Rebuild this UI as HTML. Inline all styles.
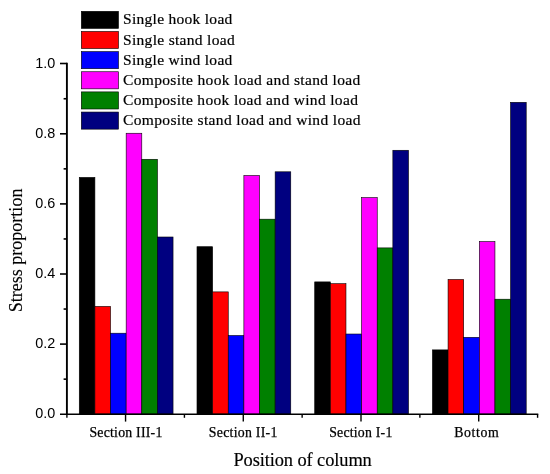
<!DOCTYPE html>
<html><head><meta charset="utf-8"><title>Stress proportion</title>
<style>
html,body{margin:0;padding:0;background:#fff}
svg{display:block}
.serif{font-family:"Liberation Serif","Times New Roman",serif;fill:#000}
.sans{font-family:"Liberation Sans",Arial,sans-serif;fill:#000}
</style></head><body>
<svg width="550" height="474" viewBox="0 0 550 474">
<rect width="550" height="474" fill="#fff"/>
<g stroke="#000" stroke-width="0.6">
<rect x="79.27" y="177.41" width="15.63" height="236.59" fill="#000000"/>
<rect x="94.90" y="306.40" width="15.63" height="107.60" fill="#ff0000"/>
<rect x="110.53" y="333.21" width="15.63" height="80.79" fill="#0000ff"/>
<rect x="126.16" y="133.25" width="15.63" height="280.75" fill="#ff00ff"/>
<rect x="141.79" y="159.29" width="15.63" height="254.71" fill="#008000"/>
<rect x="157.42" y="237.00" width="15.63" height="177.00" fill="#000080"/>
<rect x="196.99" y="246.71" width="15.63" height="167.29" fill="#000000"/>
<rect x="212.62" y="291.89" width="15.63" height="122.11" fill="#ff0000"/>
<rect x="228.25" y="335.49" width="15.63" height="78.51" fill="#0000ff"/>
<rect x="243.88" y="175.48" width="15.63" height="238.52" fill="#ff00ff"/>
<rect x="259.51" y="219.19" width="15.63" height="194.81" fill="#008000"/>
<rect x="275.14" y="171.80" width="15.63" height="242.20" fill="#000080"/>
<rect x="314.71" y="281.90" width="15.63" height="132.10" fill="#000000"/>
<rect x="330.34" y="283.68" width="15.63" height="130.32" fill="#ff0000"/>
<rect x="345.97" y="334.02" width="15.63" height="79.98" fill="#0000ff"/>
<rect x="361.60" y="197.60" width="15.63" height="216.40" fill="#ff00ff"/>
<rect x="377.23" y="247.90" width="15.63" height="166.10" fill="#008000"/>
<rect x="392.86" y="150.28" width="15.63" height="263.72" fill="#000080"/>
<rect x="432.43" y="349.89" width="15.63" height="64.11" fill="#000000"/>
<rect x="448.06" y="279.51" width="15.63" height="134.49" fill="#ff0000"/>
<rect x="463.69" y="337.31" width="15.63" height="76.69" fill="#0000ff"/>
<rect x="479.32" y="241.59" width="15.63" height="172.41" fill="#ff00ff"/>
<rect x="494.95" y="299.21" width="15.63" height="114.79" fill="#008000"/>
<rect x="510.58" y="102.30" width="15.63" height="311.70" fill="#000080"/>
</g>
<g stroke="#000" fill="none">
<path stroke-width="1.9" d="M66.9 62.7 V415.0"/>
<path stroke-width="1.4" d="M60 414.3 H538.28"/>
<g stroke-width="1.6">
<path d="M60 344.10 H66.9"/>
<path d="M60 274.00 H66.9"/>
<path d="M60 203.90 H66.9"/>
<path d="M60 133.80 H66.9"/>
<path d="M60 63.50 H66.9"/>
<path d="M63.6 379.15 H66.9"/>
<path d="M63.6 309.05 H66.9"/>
<path d="M63.6 238.95 H66.9"/>
<path d="M63.6 168.85 H66.9"/>
<path d="M63.6 98.75 H66.9"/>
</g>
<g stroke-width="1.4">
<path d="M125.56 414.3 V421.6"/>
<path d="M243.28 414.3 V421.6"/>
<path d="M361.00 414.3 V421.6"/>
<path d="M478.72 414.3 V421.6"/>
<path d="M66.90 414.3 V417.8"/>
<path d="M184.42 414.3 V417.8"/>
<path d="M302.14 414.3 V417.8"/>
<path d="M419.86 414.3 V417.8"/>
<path d="M537.58 414.3 V417.8"/>
</g>
</g>
<g class="sans" font-size="14.4" text-anchor="end">
<text x="55.2" y="418.30">0.0</text>
<text x="55.2" y="348.20">0.2</text>
<text x="55.2" y="278.10">0.4</text>
<text x="55.2" y="208.00">0.6</text>
<text x="55.2" y="137.90">0.8</text>
<text x="55.2" y="67.80">1.0</text>
</g>
<g class="serif" font-size="13.8" stroke="#000" stroke-width="0.25">
<text x="89.4" y="437.1" textLength="72.9" lengthAdjust="spacing">Section III-1</text>
<text x="208.8" y="437.1" textLength="68.5" lengthAdjust="spacing">Section II-1</text>
<text x="329.2" y="437.1" textLength="63.1" lengthAdjust="spacing">Section I-1</text>
<text x="454.2" y="437.1" textLength="44.6" lengthAdjust="spacing">Bottom</text>
</g>
<text class="serif" font-size="18.4" stroke="#000" stroke-width="0.15" x="233.4" y="466.1" textLength="138.4" lengthAdjust="spacing">Position of column</text>
<text class="serif" font-size="18" stroke="#000" stroke-width="0.15" transform="translate(22.1 312.3) rotate(-90)" textLength="123.7" lengthAdjust="spacing">Stress proportion</text>
<g stroke="#000" stroke-width="0.6">
<rect x="81.3" y="11.30" width="37.2" height="17.1" fill="#000000"/>
<rect x="81.3" y="31.45" width="37.2" height="17.1" fill="#ff0000"/>
<rect x="81.3" y="51.60" width="37.2" height="17.1" fill="#0000ff"/>
<rect x="81.3" y="71.75" width="37.2" height="17.1" fill="#ff00ff"/>
<rect x="81.3" y="91.90" width="37.2" height="17.1" fill="#008000"/>
<rect x="81.3" y="112.05" width="37.2" height="17.1" fill="#000080"/>
</g>
<g class="serif" font-size="15.5" stroke="#000" stroke-width="0.2">
<text x="123" y="24.40" textLength="109.3" lengthAdjust="spacing">Single hook load</text>
<text x="123" y="44.50" textLength="111.7" lengthAdjust="spacing">Single stand load</text>
<text x="123" y="64.60" textLength="109.3" lengthAdjust="spacing">Single wind load</text>
<text x="123" y="84.70" textLength="237.3" lengthAdjust="spacing">Composite hook load and stand load</text>
<text x="123" y="104.80" textLength="234.9" lengthAdjust="spacing">Composite hook load and wind load</text>
<text x="123" y="124.90" textLength="237.5" lengthAdjust="spacing">Composite stand load and wind load</text>
</g>
</svg>
</body></html>
